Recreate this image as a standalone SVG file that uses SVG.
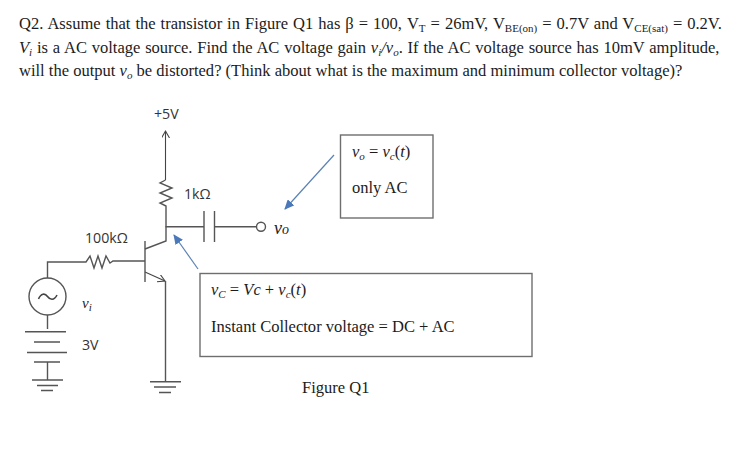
<svg xmlns="http://www.w3.org/2000/svg" width="739" height="465" viewBox="0 0 739 465">
<style>
.t{font-family:"Liberation Serif","Times New Roman",serif;font-size:16.55px;fill:#1c1c1c}
.i{font-style:italic}
.s{font-size:11px}
.l{font-family:"Open Sans","Liberation Sans",sans-serif;font-size:14.2px;fill:#333}
.w{fill:none;stroke:#555;stroke-width:1.4}
.thin{fill:none;stroke:#444;stroke-width:1.1}
.b{fill:#fff;stroke:#6e6e6e;stroke-width:1.4}
.a{fill:none;stroke:#5b82b5;stroke-width:1.2}
</style>
<defs>
<marker id="blue" markerWidth="11" markerHeight="9" refX="9" refY="4.5" orient="auto" markerUnits="userSpaceOnUse"><path d="M0 0L10 4.5L0 9Z" fill="#4a78b8"/></marker>
<marker id="open" markerWidth="10" markerHeight="10" refX="7" refY="4" orient="auto" markerUnits="userSpaceOnUse"><path d="M0 0L7 4L0 8" fill="none" stroke="#444" stroke-width="1.1"/></marker>
</defs>
<rect width="739" height="465" fill="#fff"/>
<g id="question">
<text class="t" x="19" y="29" word-spacing="0.85">Q2. Assume that the transistor in Figure Q1 has β = 100, V<tspan class="s" dy="3">T</tspan><tspan dy="-3"> = 26mV, V</tspan><tspan class="s" dy="3">BE(on)</tspan><tspan dy="-3"> = 0.7V and V</tspan><tspan class="s" dy="3">CE(sat)</tspan><tspan dy="-3"> = 0.2V.</tspan></text>
<text class="t" x="19" y="53" word-spacing="0.65"><tspan class="i">V</tspan><tspan class="i s" dy="3">i</tspan><tspan dy="-3"> is a AC voltage source. Find the AC voltage gain </tspan><tspan class="i">v</tspan><tspan class="i s" dy="3">i</tspan><tspan class="i" dy="-3">/v</tspan><tspan class="i s" dy="3">o</tspan><tspan dy="-3">. If the AC voltage source has 10mV amplitude,</tspan></text>
<text class="t" x="19" y="76">will the output <tspan class="i">v</tspan><tspan class="i s" dy="3">o</tspan><tspan dy="-3"> be distorted? (Think about what is the maximum and minimum collector voltage)?</tspan></text>
</g>
<g id="connectors">
<path class="thin" d="M165.5 180V131" marker-end="url(#open)"/>
<path class="w" d="M165.5 180L160 183L172 188L160 193L172 198L160 203L166 206V241L145 249"/>
<path class="w" d="M165.5 226.7H204M215 226.7H257"/>
<path class="w" d="M47.5 278V262H86L90 256L94 268L98 256L102 268L106 256L110 263L113 261H145"/>
<path class="thin" d="M145 272L165 281" marker-end="url(#open)"/>
<path class="w" d="M165.5 281V381"/>
<path class="w" d="M47.5 315V329M47.5 362V380"/>
<path class="a" d="M198 269L174 235" marker-end="url(#blue)"/>
<path class="a" d="M334 155L285 209" marker-end="url(#blue)"/>
</g>
<g id="transistor"><path class="w" d="M145 241V282"/></g>
<g id="capacitor"><path class="w" d="M204 211V242M214.5 211V242"/></g>
<g id="output-terminal"><circle cx="261" cy="226.7" r="4.5" fill="#fff" stroke="#555" stroke-width="1.4"/></g>
<g id="source">
<circle cx="47.5" cy="296.5" r="18.5" fill="#fff" stroke="#555" stroke-width="1.4"/>
<path d="M38.5 299C41 293 45 293 47.5 296.5S54 301 57 295" fill="none" stroke="#444" stroke-width="1.6"/>
</g>
<g id="battery"><path class="w" d="M25 331.7H66M34 342H60M27 352.5H67M34 362H60"/></g>
<g id="ground-left"><path class="w" d="M32 380H63M37 385.5H58M41 390.5H53"/></g>
<g id="ground-right"><path class="w" d="M150 381.7H181M154 387H176M159 392.5H171"/></g>
<g id="labels">
<text class="l" x="154" y="119">+5V</text>
<text class="l" x="184" y="199">1kΩ</text>
<text class="l" x="85" y="243">100kΩ</text>
<text class="l" x="82" y="350">3V</text>
<text class="t i" x="82" y="308" style="font-size:15px">v<tspan class="s" dy="3">i</tspan></text>
<text class="t i" x="274" y="234" style="font-size:18px">v<tspan style="font-size:14px" dy="0">o</tspan></text>
<text class="t" x="302" y="393">Figure Q1</text>
</g>
<g id="box-ac">
<rect class="b" x="340.5" y="135" width="92.5" height="83"/>
<text class="t" x="352" y="157"><tspan class="i">v</tspan><tspan class="i s" dy="3">o</tspan><tspan dy="-3"> = </tspan><tspan class="i">v</tspan><tspan class="i s" dy="3">c</tspan><tspan dy="-3">(</tspan><tspan class="i">t</tspan>)</text>
<text class="t" x="352" y="193">only AC</text>
</g>
<g id="box-instant">
<rect class="b" x="200" y="273.5" width="332" height="83"/>
<text class="t" x="211" y="295"><tspan class="i">v</tspan><tspan class="i s" dy="3">C</tspan><tspan dy="-3"> = </tspan><tspan class="i">Vc</tspan> + <tspan class="i">v</tspan><tspan class="i s" dy="3">c</tspan><tspan dy="-3">(</tspan><tspan class="i">t</tspan>)</text>
<text class="t" x="211" y="332">Instant Collector voltage = DC + AC</text>
</g>
</svg>
